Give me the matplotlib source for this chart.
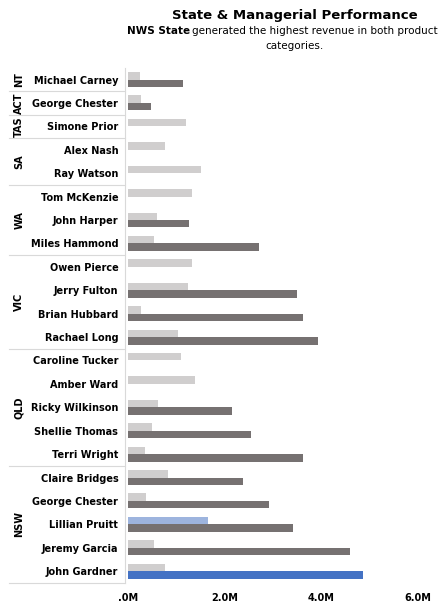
import matplotlib.pyplot as plt
import numpy as np

states = ["NT", "ACT", "TAS", "SA", "WA", "VIC", "QLD", "NSW"]
state_sizes = [1, 1, 1, 2, 3, 4, 5, 5]
managers = ["Michael Carney", "George Chester", "Simone Prior", "Alex Nash", "Ray Watson",
            "Tom McKenzie", "John Harper", "Miles Hammond", "Owen Pierce", "Jerry Fulton",
            "Brian Hubbard", "Rachael Long", "Caroline Tucker", "Amber Ward", "Ricky Wilkinson",
            "Shellie Thomas", "Terri Wright", "Claire Bridges", "George Chester", "Lillian Pruitt",
            "Jeremy Garcia", "John Gardner"]
cat_a = [0.25, 0.27, 1.20, 0.77, 1.51, 1.33, 0.60, 0.54, 1.33, 1.25, 0.27, 1.04, 1.10, 1.39,
         0.62, 0.50, 0.35, 0.83, 0.37, 1.66, 0.54, 0.77]
cat_b = [1.14, 0.48, 0, 0, 0, 0, 1.27, 2.72, 0, 3.50, 3.63, 3.94, 0, 0,
         2.16, 2.55, 3.63, 2.38, 2.92, 3.42, 4.60, 4.87]

fig = plt.figure(figsize=(4.46, 6.11), dpi=100)
ax = fig.add_axes([0.287, 0.046, 0.65, 0.843])
n = len(managers)
y = np.arange(n)
col_a = ["#d0cece"] * n
col_b = ["#767171"] * n
col_a[19] = "#9db4de"
col_b[21] = "#4472c4"
h = 0.32
ax.barh(y - h / 2, cat_a, height=h, color=col_a)
ax.barh(y + h / 2, cat_b, height=h, color=col_b)
ax.set_ylim(n - 0.5, -0.5)
ax.set_xlim(0, 6)
ax.set_xticks([0, 2, 4, 6])
ax.set_xticklabels([".0M", "2.0M", "4.0M", "6.0M"], fontweight="bold", fontsize=7)
ax.set_yticks(y)
ax.set_yticklabels(managers, fontweight="bold", fontsize=7)
ax.tick_params(length=0, pad=7)
for s in ax.spines.values():
    s.set_visible(False)

# state labels and separators
start = 0
trans = ax.get_yaxis_transform()
for st, sz in zip(states, state_sizes):
    mid = start + (sz - 1) / 2
    ax.text(-0.375, mid, st, transform=trans, rotation=90, ha="center", va="center",
            fontweight="bold", fontsize=7)
    ax.plot([-0.41, -0.01], [start + sz - 0.5] * 2, transform=trans, color="#d9d9d9",
            lw=0.8, clip_on=False)
    start += sz
ax.plot([-0.01, -0.01], [-0.5, n - 0.5], transform=trans, color="#d9d9d9", lw=0.8, clip_on=False)

fig.text(0.66, 0.975, "State & Managerial Performance", ha="center", va="center",
         fontweight="bold", fontsize=9.5)
fig.text(0.285, 0.949, "NWS State", ha="left", va="center", fontweight="bold", fontsize=7.5)
fig.text(0.43, 0.949, "generated the highest revenue in both product", ha="left",
         va="center", fontsize=7.5)
fig.text(0.66, 0.924, "categories.", ha="center", va="center", fontsize=7.5)

fig.savefig("out.png", dpi=100)
